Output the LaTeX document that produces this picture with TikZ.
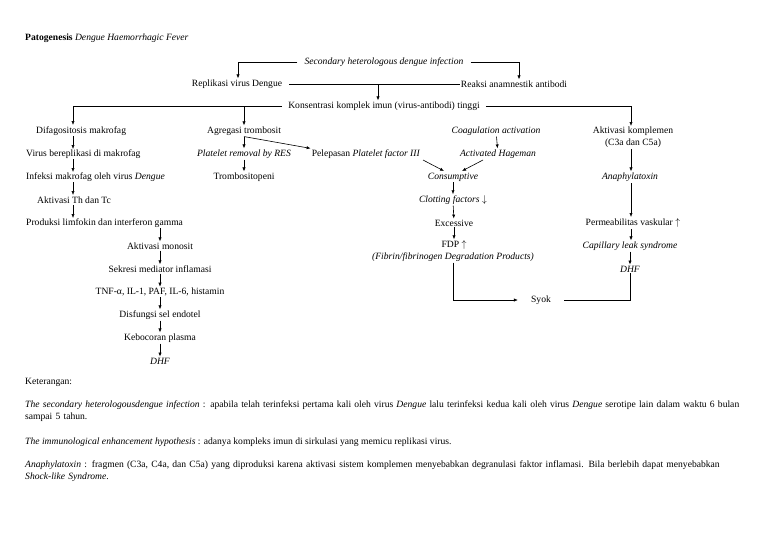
\documentclass[tikz,border=0pt]{standalone}
\usepackage{fontspec}
\setmainfont{Liberation Serif}
\usetikzlibrary{arrows.meta}
\begin{document}
\begin{tikzpicture}[x=1pt,y=-1pt,
  every node/.style={font=\fontsize{9.6}{11.5}\selectfont,inner sep=1pt},
  ar/.style={-{Latex[length=4pt,width=3.2pt]},line width=0.6pt},
  ln/.style={line width=0.6pt}]
\useasboundingbox (0,0) rectangle (768,543);
\node[anchor=west] at (24,38) {\textbf{Patogenesis} \textit{Dengue Haemorrhagic Fever}};
\node (sec) at (384,62) {\textit{Secondary heterologous dengue infection}};
\node (rep) at (237,84) {Replikasi virus Dengue};
\node (rea) at (514,84) {Reaksi anamnestik antibodi};
\node (kon) at (384,106) {Konsentrasi komplek imun (virus-antibodi) tinggi};
\coordinate (secL) at (238,62);
\coordinate (secR) at (519,62);
\draw[ar] (sec.west) ++(-6,0) -- (secL) -- (secL |- rep.north);
\draw[ar] (sec.east) ++(6,0) -- (secR) -- (secR |- rea.north);
\draw[ln] (rep.east) ++(6,0) -- (rea.west);
\draw[ar] (378,84) -- (kon.north -| 378,0);
% left
\node[anchor=west] (dif) at (35,131) {Difagositosis makrofag};
\node[anchor=west] (vir) at (25,154) {Virus bereplikasi di makrofag};
\node[anchor=west] (inf) at (25,177) {Infeksi makrofag oleh virus \textit{Dengue}};
\node[anchor=west] (akt) at (36,200) {Aktivasi Th dan Tc};
\node[anchor=west] (pro) at (25,223) {Produksi limfokin dan interferon gamma};
\draw[ar] (kon.west) ++(-5,0) -- (73,106) -- (73,125);
\draw[ar] (73,136) -- (73,149);
\draw[ar] (73,159) -- (73,172);
\draw[ar] (73,182) -- (73,195);
\draw[ar] (73,205) -- (73,218);
\node (mon) at (160,246) {Aktivasi monosit};
\node (sek) at (160,269) {Sekresi mediator inflamasi};
\node (tnf) at (160,292) {TNF-α, IL-1, PAF, IL-6, histamin};
\node (dis) at (160,315) {Disfungsi sel endotel};
\node (keb) at (160,338) {Kebocoran plasma};
\node (dhf1) at (160,361) {\textit{DHF}};
\draw[ar] (160,228) -- (mon);
\draw[ar] (mon) -- (sek);
\draw[ar] (sek) -- (tnf);
\draw[ar] (tnf) -- (dis);
\draw[ar] (dis) -- (keb);
\draw[ar] (keb) -- (dhf1);
% middle
\node (agr) at (244,131) {Agregasi trombosit};
\node (pla) at (244,154) {\textit{Platelet removal by RES}};
\node (tro) at (244,177) {Trombositopeni};
\node (pel) at (366,154) {Pelepasan \textit{Platelet factor III}};
\draw[ar] (244,106) -- (agr);
\draw[ar] (agr) -- (pla);
\draw[ar] (pla) -- (tro);
\draw[ar] (agr.south) -- (pel.north west);
\node (coa) at (496,131) {\textit{Coagulation activation}};
\node (hag) at (498,154) {\textit{Activated Hageman}};
\node (con) at (453,177) {\textit{Consumptive}};
\node (clo) at (453,200) {\textit{Clotting factors} $\downarrow$};
\node (exc) at (454,223) {Excessive};
\node (fdp) at (454,245) {FDP $\uparrow$};
\node (fib) at (453,257) {\textit{(Fibrin/fibrinogen Degradation Products)}};
\draw[ar] (coa) -- (hag);
\draw[ar] (423,160) -- (444,171);
\draw[ar] (483,160) -- (462,171);
\draw[ar] (con) -- (clo);
\draw[ar] (clo) -- (exc);
\draw[ar] (exc) -- (fdp);
\node (syok) at (541,300) {Syok};
\draw[ar,shorten >=12pt] (fib.south) -- (453,300) -- (syok.west);
% right
\node[align=center] (kom) at (633,137) {Aktivasi komplemen\\ (C3a dan C5a)};
\node (ana) at (630,177) {\textit{Anaphylatoxin}};
\node (per) at (633,223) {Permeabilitas vaskular $\uparrow$};
\node (cap) at (630,246) {\textit{Capillary leak syndrome}};
\node (dhf2) at (630,269) {\textit{DHF}};
\draw[ar] (kon.east) ++(5,0) -- (631,106) -- (631,126);
\draw[ar] (631,149) -- (ana.north -| 631,0);
\draw[ar] (631,183) -- (631,217);
\draw[ar] (631,229) -- (cap.north -| 631,0);
\draw[ar] (cap) -- (dhf2);
\draw[ln,shorten >=12pt] (dhf2.south) -- (630,300) -- (syok.east);
% notes
\node[anchor=west] at (24,382) {Keterangan:};
\node[anchor=north west,text width=722pt,align=left] at (24,400) {\textit{The secondary heterologousdengue infection} : apabila telah terinfeksi pertama kali oleh virus \textit{Dengue} lalu terinfeksi kedua kali oleh virus \textit{Dengue} serotipe lain dalam waktu 6 bulan sampai 5 tahun.};
\node[anchor=west] at (24,442) {\textit{The immunological enhancement hypothesis} : adanya kompleks imun di sirkulasi yang memicu replikasi virus.};
\node[anchor=north west,text width=722pt,align=left] at (24,460) {\textit{Anaphylatoxin} : fragmen (C3a, C4a, dan C5a) yang diproduksi karena aktivasi sistem komplemen menyebabkan degranulasi faktor inflamasi. Bila berlebih dapat menyebabkan \textit{Shock-like Syndrome}.};
\end{tikzpicture}
\end{document}
